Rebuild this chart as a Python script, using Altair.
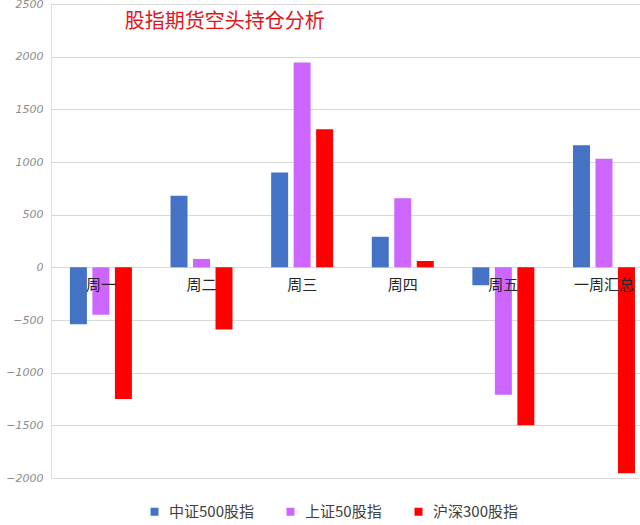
import altair as alt
import pandas as pd

days = ["周一", "周二", "周三", "周四", "周五", "一周汇总"]
series = ["中证500股指", "上证50股指", "沪深300股指"]
zz500 = [-540, 680, 900, 290, -170, 1160]
sz50 = [-450, 80, 1945, 655, -1210, 1030]
hs300 = [-1250, -590, 1310, 60, -1500, -1955]
colors = ["#4472C4", "#CC66FF", "#FF0000"]

rows = []
for i, d in enumerate(days):
    for s, vals in zip(series, [zz500, sz50, hs300]):
        rows.append({"日期": d, "品种": s, "净空": vals[i]})
df = pd.DataFrame(rows)

font_cjk = "Noto Sans CJK SC"

chart = (
    alt.Chart(df)
    .mark_bar()
    .encode(
        x=alt.X(
            "日期:N",
            sort=days,
            title=None,
            scale=alt.Scale(paddingInner=0.384, paddingOuter=0.119, align=0.79),
            axis=alt.Axis(
                orient="bottom",
                offset=-210,
                domain=False,
                ticks=False,
                labelAngle=0,
                labelFont=font_cjk,
                labelFontSize=15,
                labelColor="#262626",
                labelPadding=9,
                zindex=1,
            ),
        ),
        xOffset=alt.XOffset(
            "品种:N", sort=series, scale=alt.Scale(paddingInner=0.245, paddingOuter=0)
        ),
        y=alt.Y(
            "净空:Q",
            title=None,
            scale=alt.Scale(domain=[-2000, 2500], nice=False, zero=False),
            axis=alt.Axis(
                values=[-2000, -1500, -1000, -500, 0, 500, 1000, 1500, 2000, 2500],
                format="d",
                domain=False,
                ticks=False,
                labelFont="DejaVu Sans",
                labelFontStyle="italic",
                labelFontSize=11,
                labelColor="#8c8c8c",
                labelPadding=8,
                gridColor="#d9d9d9",
                gridWidth=1,
            ),
        ),
        color=alt.Color(
            "品种:N",
            sort=series,
            scale=alt.Scale(domain=series, range=colors),
            legend=alt.Legend(
                title=None,
                orient="none",
                direction="horizontal",
                legendX=96,
                legendY=500,
                symbolType="square",
                symbolSize=64,
                symbolStrokeWidth=0,
                labelFont=font_cjk,
                labelFontSize=15,
                labelColor="#404040",
                labelOffset=7,
                columnPadding=29,
            ),
        ),
    )
    .properties(
        width=589,
        height=474,
        autosize=alt.AutoSizeParams(type="none"),
        padding={"left": 51, "top": 4, "right": 0, "bottom": 47},
        title=alt.TitleParams(
            "股指期货空头持仓分析",
            anchor="start",
            dx=119,
            dy=44,
            baseline="middle",
            offset=0,
            font=font_cjk,
            fontSize=20,
            fontWeight="normal",
            color="#E3141C",
        ),
    )
    .configure_view(stroke=None)
    .configure(background="white")
)

chart.save("out.html", embed_options={"renderer": "svg", "actions": False})
